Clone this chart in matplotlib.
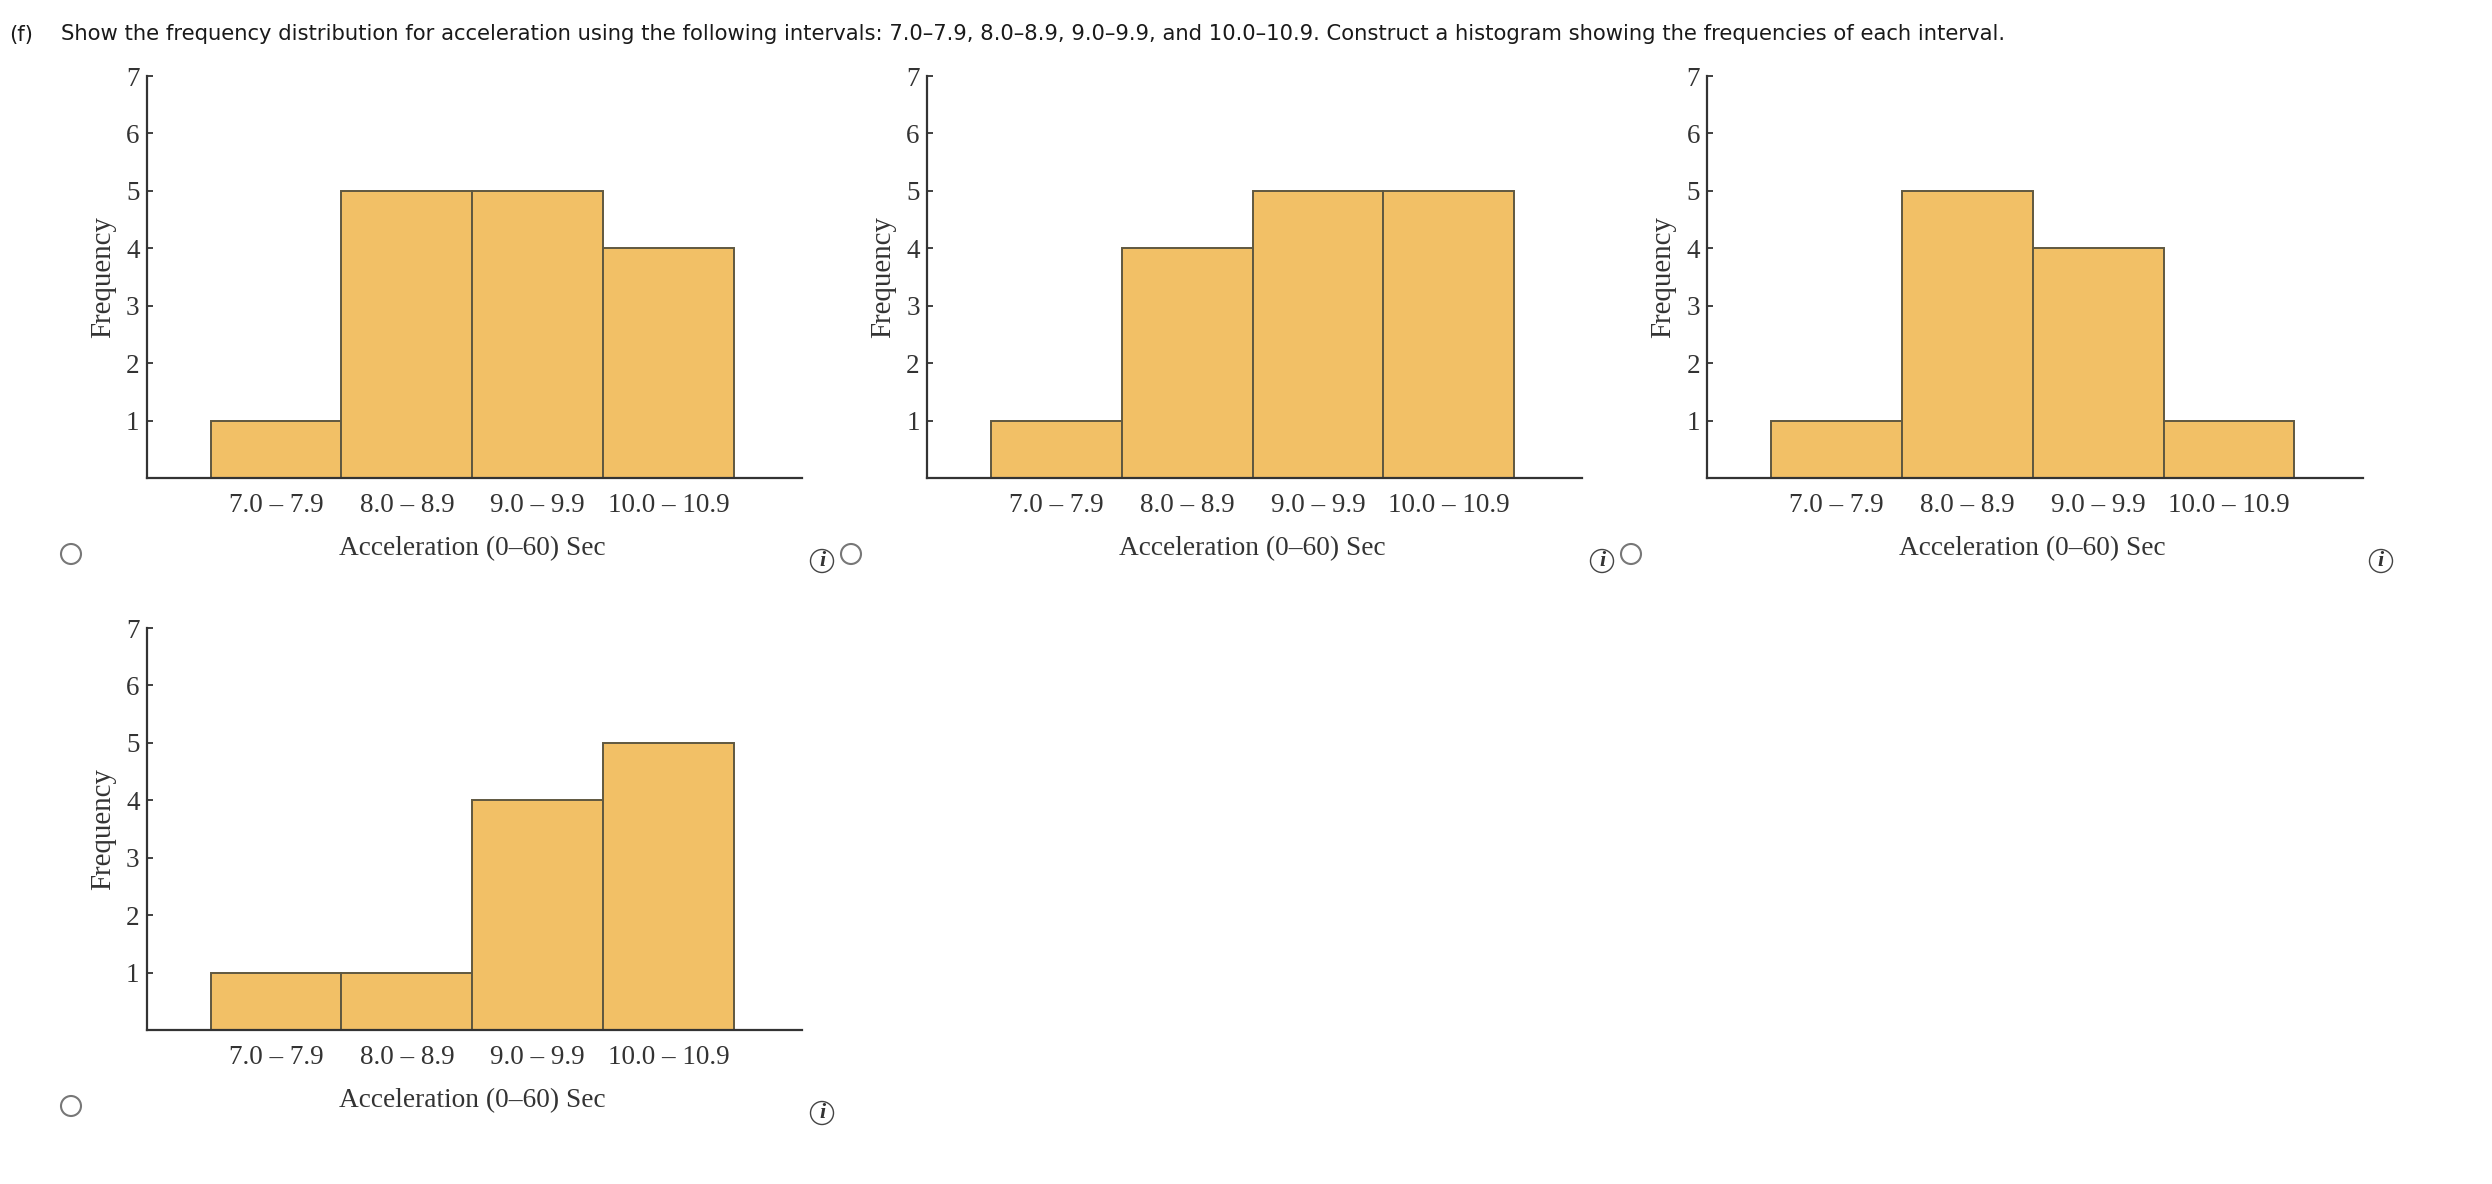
import matplotlib.pyplot as plt
from matplotlib.patches import Circle

W, H = 2492, 1184

title_mark = "(f)"
title = ("Show the frequency distribution for acceleration using the following intervals: "
         "7.0–7.9, 8.0–8.9, 9.0–9.9, and 10.0–10.9. Construct a histogram showing the frequencies of each interval.")
intervals = ["7.0 – 7.9", "8.0 – 8.9", "9.0 – 9.9", "10.0 – 10.9"]
y_ticks = [1, 2, 3, 4, 5, 6, 7]
freq_a = [1, 5, 5, 4]
freq_b = [1, 4, 5, 5]
freq_c = [1, 5, 4, 1]
freq_d = [1, 1, 4, 5]

plt.rcParams['font.family'] = ['Liberation Serif', 'DejaVu Serif']

fig = plt.figure(figsize=(W / 100, H / 100), dpi=100, facecolor='white')

# full-page layer in pixels for the quiz furniture
page = fig.add_axes([0, 0, 1, 1], zorder=5)
page.set_xlim(0, W)
page.set_ylim(H, 0)
page.axis('off')
page.patch.set_alpha(0)

page.text(9, 34.5, title_mark, family='DejaVu Sans', fontsize=15.25, color='#1a1a1a', va='center')
page.text(61, 34.5, title, family='DejaVu Sans', fontsize=15.25, color='#1a1a1a', va='center')


def hist_panel(left, baseline, values):
    ax = fig.add_axes([left / W, 1 - baseline / H, 655.5 / W, 402 / H])
    ax.bar(range(1, 5), values, width=1.0, color='#F2C066', edgecolor='#5f5840', linewidth=1.4, zorder=2)
    ax.set_xlim(0.01, 5.02)
    ax.set_ylim(0, 7)
    ax.set_xticks(range(1, 5))
    ax.set_xticklabels(intervals)
    ax.set_yticks(y_ticks)
    ax.tick_params(axis='x', direction='in', length=3, width=1.3, color='#333333', pad=11,
                   labelsize=19.5, labelcolor='#333333')
    ax.tick_params(axis='y', direction='in', length=4, width=1.3, color='#333333', pad=5,
                   labelsize=19.5, labelcolor='#333333')
    for side in ['top', 'right']:
        ax.spines[side].set_visible(False)
    for side in ['left', 'bottom']:
        ax.spines[side].set_linewidth(1.6)
        ax.spines[side].set_color('#333333')
        ax.spines[side].set_zorder(3)
    ax.set_xlabel("Acceleration (0–60) Sec", fontsize=19.7, color='#333333')
    ax.xaxis.set_label_coords((472 - 146.5) / 655.5, -(549 - 478) / 402, transform=ax.transAxes)
    ax.xaxis.label.set_va('center')
    ax.set_ylabel("Frequency", fontsize=20.8, color='#333333')
    ax.yaxis.set_label_coords(-(146.5 - 103) / 655.5, 0.5)
    ax.yaxis.label.set_va('center')
    return ax


def radio(x, y):
    page.add_patch(Circle((x, y), 10, facecolor='white', edgecolor='#777777', linewidth=1.5))


def info(x, y):
    page.add_patch(Circle((x, y), 11.5, facecolor='white', edgecolor='#444444', linewidth=1.0))
    page.text(x, y, "i", fontsize=16, style='italic', weight='bold', color='#333333',
              ha='center', va='center')


hist_panel(146.5, 478, freq_a)
hist_panel(926.8, 478, freq_b)
hist_panel(1707, 478, freq_c)
hist_panel(146.5, 1030, freq_d)

radio(71, 554)
radio(851, 554)
radio(1631, 554)
radio(71, 1106)
info(822, 561)
info(1602, 561)
info(2381, 561)
info(822, 1113)

fig.savefig('out.png', dpi=100)
